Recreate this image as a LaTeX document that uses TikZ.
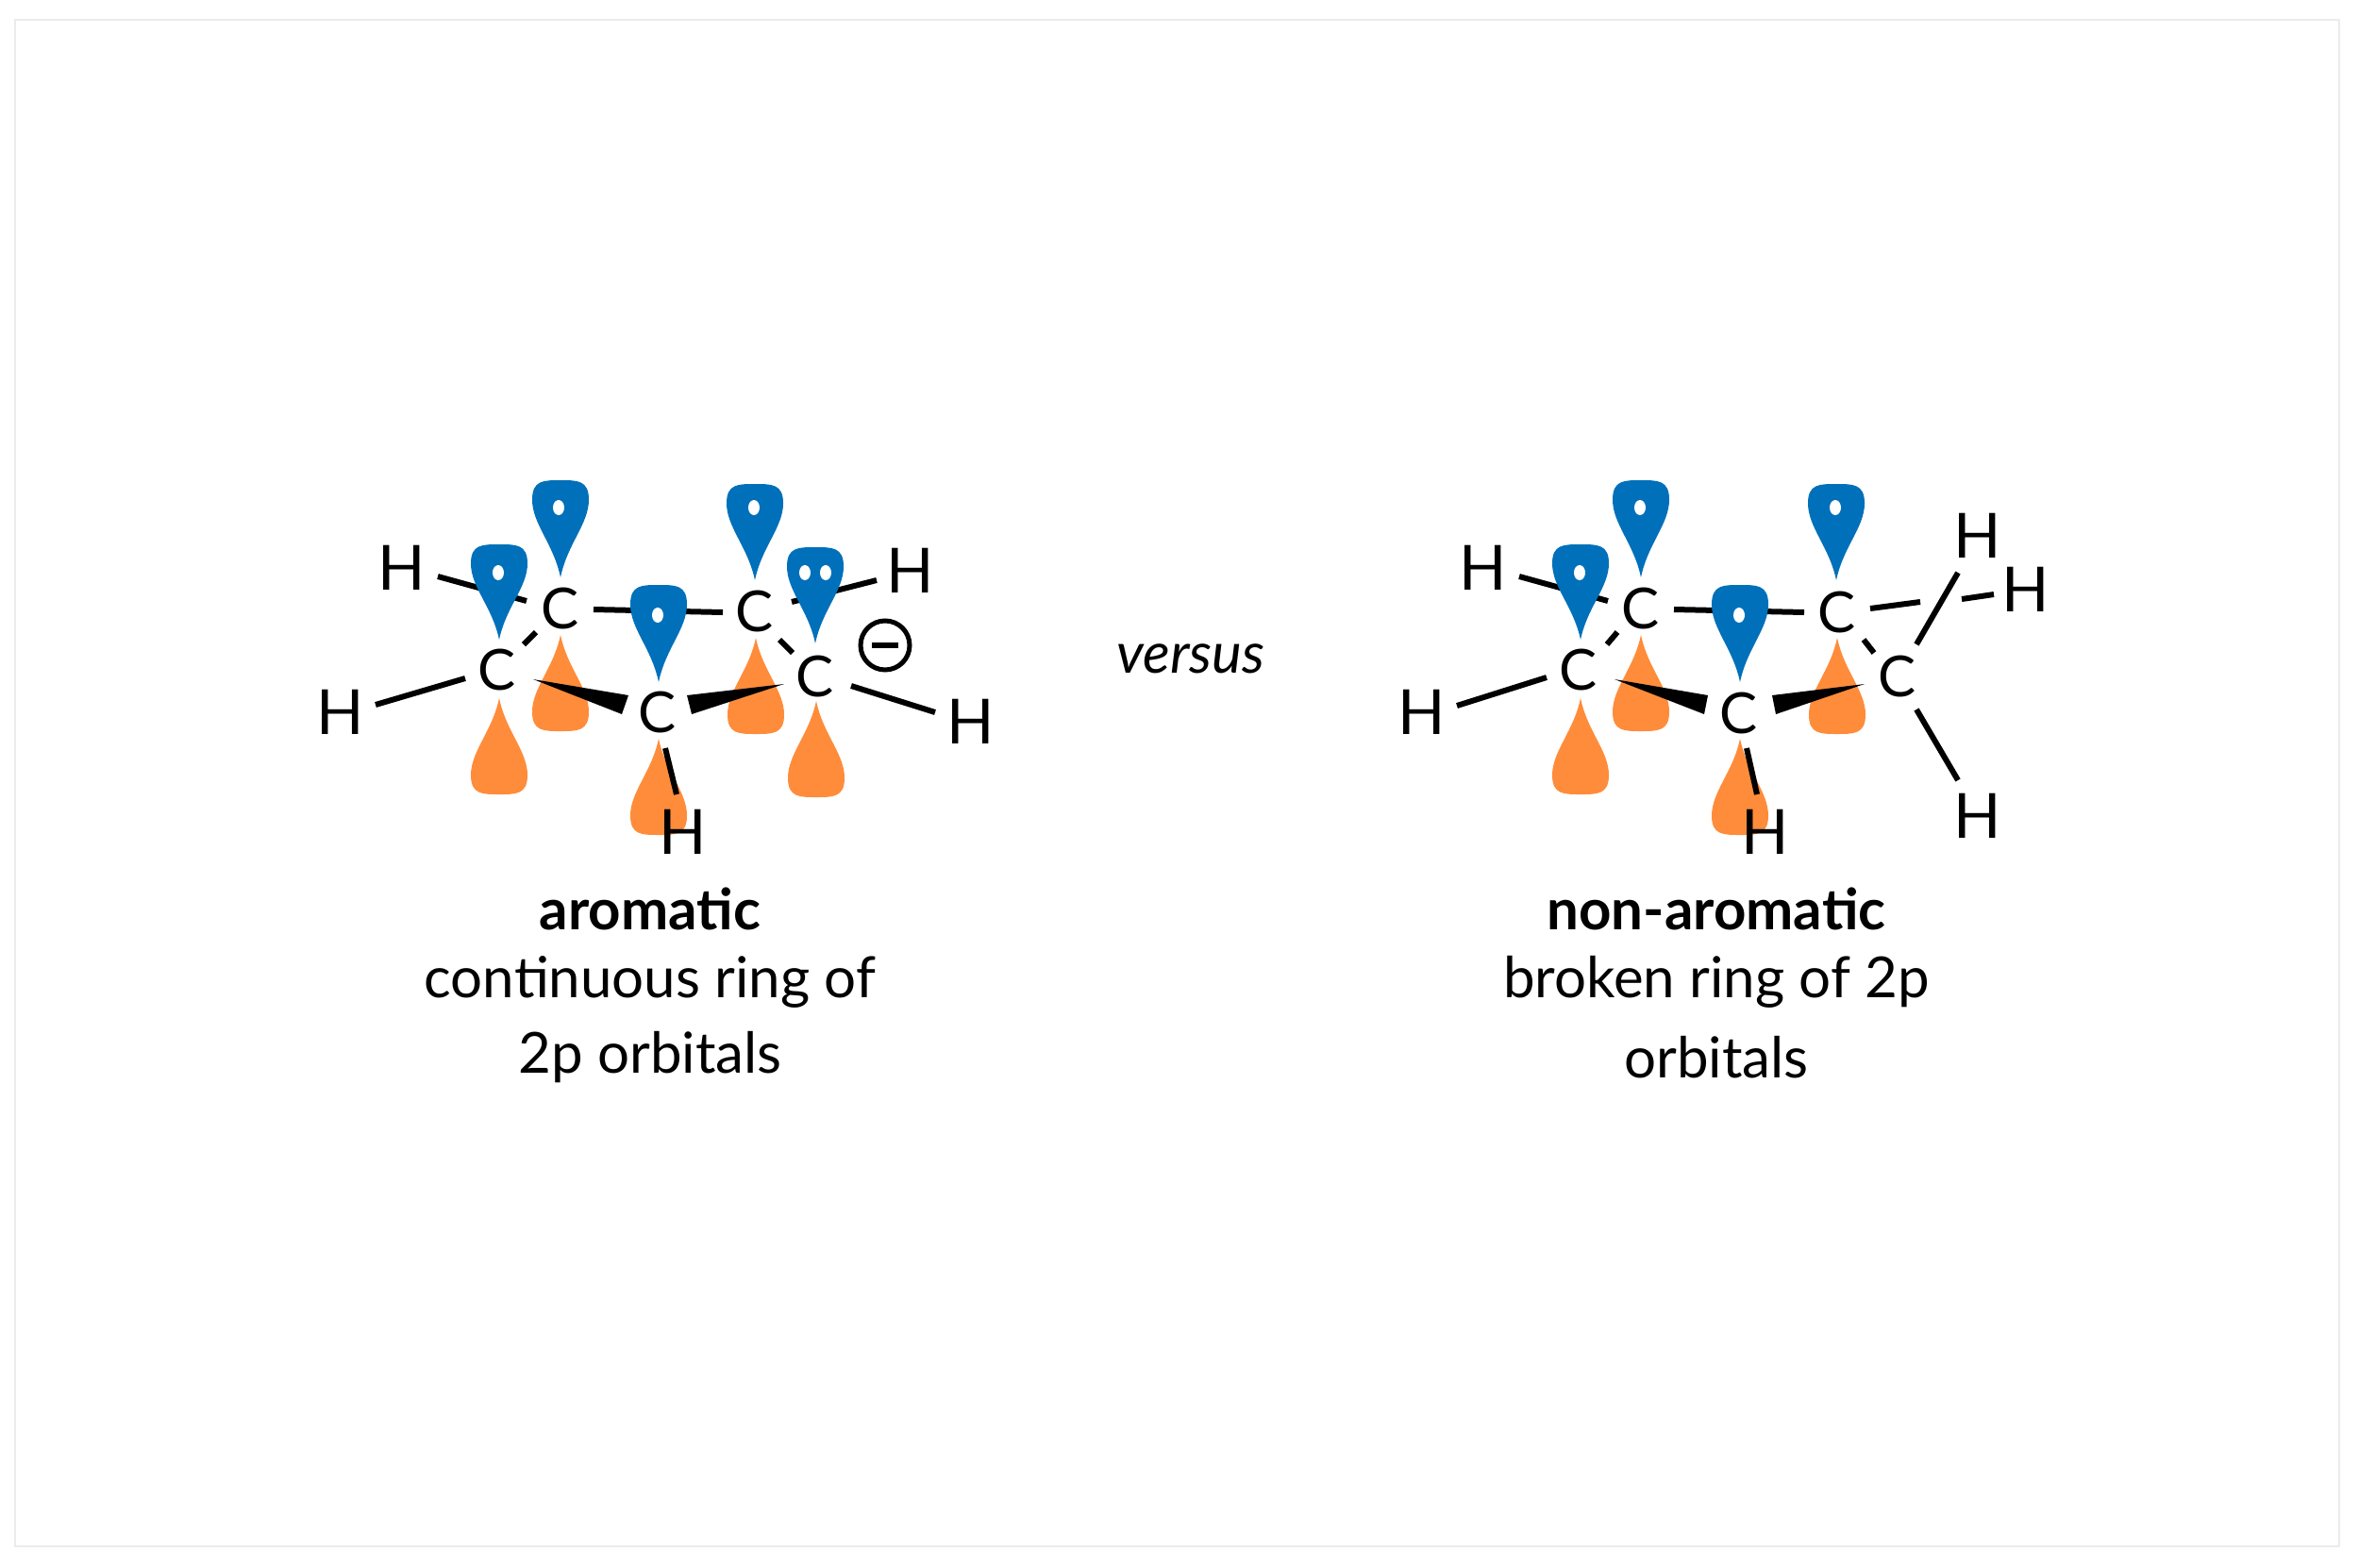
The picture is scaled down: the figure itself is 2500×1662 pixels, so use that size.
\documentclass[tikz,border=0pt]{standalone}
\usepackage{fontspec}
\setmainfont{Lato}
\definecolor{pblue}{HTML}{0070BA}
\definecolor{porange}{HTML}{FF8C3A}
\newcommand{\lobe}[4]{%
  \pgfmathsetmacro\LL{#4-#3}%
  \fill[#1] (#2,#4) .. controls ({#2+7.5},{#4-0.35*\LL}) and ({#2+30},{#3+0.45*\LL}) .. ({#2+30},{#3+0.2*\LL})
   .. controls ({#2+30},{#3}) and ({#2+18},{#3}) .. (#2,#3)
   .. controls ({#2-18},{#3}) and ({#2-30},{#3}) .. ({#2-30},{#3+0.2*\LL})
   .. controls ({#2-30},{#3+0.45*\LL}) and ({#2-7.5},{#4-0.35*\LL}) .. (#2,#4) -- cycle;}
\begin{document}
\begin{tikzpicture}[x=1pt,y=-1pt,
  bond/.style={line width=6pt},
  atomC/.style={font=\fontsize{60}{60}\selectfont,inner sep=0pt},
  atomH/.style={font=\fontsize{66}{66}\selectfont,inner sep=0pt},
  edot/.style={fill=white},
  lbl/.style={font=\fontsize{60}{80}\selectfont,align=center}]
\useasboundingbox (0,0) rectangle (2500,1662);
\draw[black!8,line width=1.5pt] (16,21) rectangle (2479,1639);
% ---------- LEFT ----------
\lobe{porange}{529}{842}{740}
\lobe{porange}{594}{775}{673}
\lobe{porange}{698}{885}{783}
\lobe{porange}{801}{778}{676}
\lobe{porange}{865}{845}{743}
\draw[bond] (398,747) -- (493,719);
\draw[bond] (464,611) -- (558,637);
\draw[bond] (555,683) -- (568,670);
\draw[bond] (629,646) -- (766,649);
\fill (565,720) -- (659,757) -- (666,737) -- cycle;
\fill (831,725) -- (733,757) -- (728,737) -- cycle;
\draw[bond] (826,678) -- (840,692);
\draw[bond] (839,638) -- (929,615);
\draw[bond] (902,727) -- (991,755);
\draw[bond] (705,793) -- (717,842);
\lobe{pblue}{529}{577}{678}
\lobe{pblue}{594}{509}{612}
\lobe{pblue}{698}{620}{723}
\lobe{pblue}{800}{513}{615}
\lobe{pblue}{864}{580}{682}
\fill[edot] (528,607) ellipse (6 and 8);
\fill[edot] (592,538) ellipse (6 and 8);
\fill[edot] (697,652) ellipse (6 and 8);
\fill[edot] (799,538) ellipse (6 and 8);
\fill[edot] (853,607) ellipse (6 and 8);
\fill[edot] (875,607) ellipse (6 and 8);
\node[atomC] (a1) at (527,710) {C};
\node[atomC] (a2) at (594,645) {C};
\node[atomC] (a3) at (697,755) {C};
\node[atomC] (a4) at (800,648) {C};
\node[atomC] (a5) at (864,717) {C};
\node[atomH] (ah1) at (361,755) {H};
\node[atomH] (ah2) at (426,602) {H};
\node[atomH] (ah3) at (965,605) {H};
\node[atomH] (ah4) at (1029,765) {H};
\node[atomH] (ah5) at (724,882) {H};
\draw[line width=5pt] (938,684) circle (26);
\draw[line width=6pt] (924,684) -- (952,684);
\node[lbl] (t1) at (689,963) {\bfseries aromatic};
\node[lbl] (t2) at (689,1041) {continuous ring of};
\node[lbl] (t3) at (689,1121) {2p orbitals};
\node[lbl] (vs) at (1262,698) {\itshape versus};
% ---------- RIGHT ----------
\lobe{porange}{1675}{842}{740}
\lobe{porange}{1739}{775}{673}
\lobe{porange}{1844}{885}{783}
\lobe{porange}{1947}{778}{676}
\draw[bond] (1544,748) -- (1639,718);
\draw[bond] (1610,611) -- (1704,637);
\draw[bond] (1703,683) -- (1714,670);
\draw[bond] (1774,646) -- (1912,649);
\fill (1711,720) -- (1806,757) -- (1810,737) -- cycle;
\fill (1976,725) -- (1878,737) -- (1882,757) -- cycle;
\draw[bond] (1975,678) -- (1986,692);
\draw[bond] (1982,645) -- (2035,638);
\draw[bond] (2079,635) -- (2113,630);
\draw[bond] (2031,683) -- (2075,607);
\draw[bond] (2031,752) -- (2075,827);
\draw[bond] (1851,793) -- (1862,842);
\lobe{pblue}{1675}{577}{678}
\lobe{pblue}{1739}{509}{612}
\lobe{pblue}{1844}{620}{723}
\lobe{pblue}{1946}{513}{615}
\fill[edot] (1674,607) ellipse (6 and 8);
\fill[edot] (1738,538) ellipse (6 and 8);
\fill[edot] (1843,652) ellipse (6 and 8);
\fill[edot] (1945,538) ellipse (6 and 8);
\node[atomC] (b1) at (1673,710) {C};
\node[atomC] (b2) at (1739,645) {C};
\node[atomC] (b3) at (1843,756) {C};
\node[atomC] (b4) at (1947,649) {C};
\node[atomC] (b5) at (2011,717) {C};
\node[atomH] (bh1) at (1507,755) {H};
\node[atomH] (bh2) at (1572,602) {H};
\node[atomH] (bh3) at (2096,568) {H};
\node[atomH] (bh4) at (2147,625) {H};
\node[atomH] (bh5) at (2096,865) {H};
\node[atomH] (bh6) at (1871,882) {H};
\node[lbl] (u1) at (1819,963) {\bfseries non-aromatic};
\node[lbl] (u2) at (1819,1041) {broken ring of 2p};
\node[lbl] (u3) at (1819,1121) {orbitals};
\end{tikzpicture}
\end{document}
